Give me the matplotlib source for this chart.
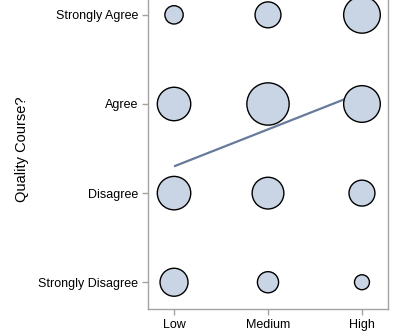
import matplotlib.pyplot as plt
import numpy as np

plt.rcParams['font.family'] = ['Liberation Sans', 'DejaVu Sans']

# categories
levels = ['Low', 'Medium', 'High']
answers = ['Strongly Disagree', 'Disagree', 'Agree', 'Strongly Agree']

# counts per answer (rows) and level (columns)
counts = {
    'Strongly Disagree': [7, 4, 2],
    'Disagree': [10, 9, 6],
    'Agree': [10, 16, 12],
    'Strongly Agree': [3, 6, 12],
}

# fitted line end points (Low -> High)
fit_x = ['Low', 'High']
fit_y = [2.30, 3.13]

fig = plt.figure(figsize=(4, 3.36), dpi=100)
ax = fig.add_axes([0.37, 0.0804, 0.6, 0.955])

xpos = {lv: i + 1 for i, lv in enumerate(levels)}
ypos = {a: i + 1 for i, a in enumerate(answers)}

# regression line behind the bubbles
ax.plot([xpos[x] for x in fit_x], fit_y, color='#667a9a', lw=1.6, zorder=2,
        solid_capstyle='butt')

for a in answers:
    n = np.array(counts[a])
    ax.scatter([xpos[lv] for lv in levels], [ypos[a]] * 3, s=58 * n,
               facecolor='#c9d5e5', edgecolor='black', linewidth=1.0, zorder=3)

ax.set_xlim(0.723, 3.277)
ax.set_ylim(0.70, 4.30)
ax.set_xticks([1, 2, 3])
ax.set_xticklabels(levels)
ax.set_yticks([1, 2, 3, 4])
ax.set_yticklabels(answers)
ax.set_ylabel('Quality Course?', fontsize=10.5)
ax.yaxis.set_label_coords(-0.495, 0.497)

for sp in ax.spines.values():
    sp.set_color('#a3a3a3')
    sp.set_linewidth(1.0)
ax.tick_params(length=4, width=1, color='#a3a3a3', labelsize=9, pad=3,
               labelcolor='black')

fig.savefig('out.png', dpi=100)
